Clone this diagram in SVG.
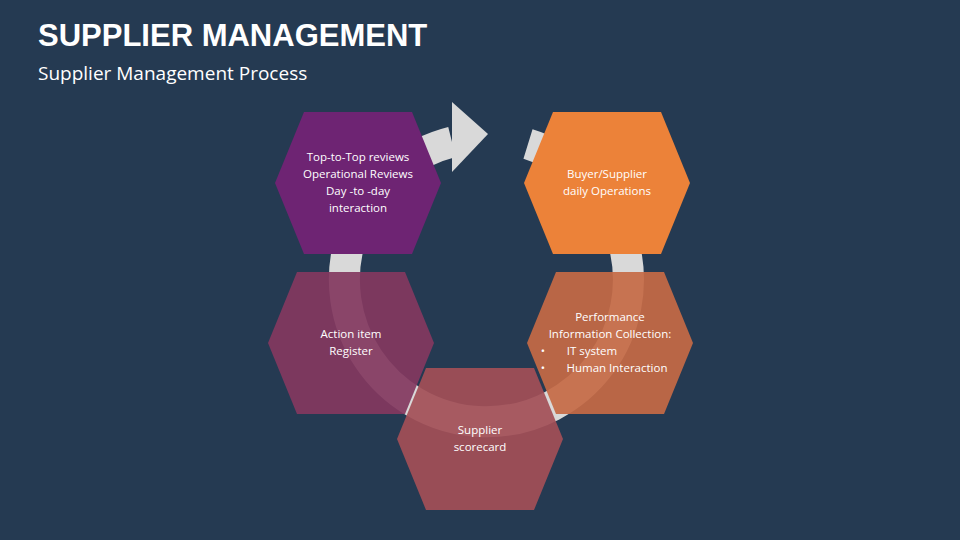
<svg xmlns="http://www.w3.org/2000/svg" width="960" height="540" viewBox="0 0 960 540">
<style>
.t{font-family:"Open Sans","Liberation Sans",sans-serif;fill:#fff;font-size:11.5px;text-anchor:middle}
.h{stroke:none}
</style>
<defs><polygon id="hx" points="-83,0 -54,-71 54,-71 83,0 54,71 -54,71"/></defs>
<rect width="960" height="540" fill="#253A52"/>
<text x="38" y="46" font-family="Liberation Sans,sans-serif" font-weight="bold" font-size="31" fill="#fff">SUPPLIER MANAGEMENT</text>
<text x="38" y="80" font-family="Open Sans,Liberation Sans,sans-serif" font-size="19" fill="#fff">Supplier Management Process</text>
<g id="connectors">
<path d="M528,144 A142,142 0 1 1 452,142" fill="none" stroke="#D9D9D9" stroke-width="31"/>
<polygon points="452,102 488,134 452,172" fill="#D9D9D9"/>
</g>
<g id="n1"><use href="#hx" x="358" y="183" fill="#6E2473"/><text class="t" x="358" y="161">Top-to-Top reviews</text><text class="t" x="358" y="178">Operational Reviews</text><text class="t" x="358" y="195">Day -to -day</text><text class="t" x="358" y="212">interaction</text></g>
<g id="n2"><use href="#hx" x="607" y="183" fill="#EC8239"/><text class="t" x="607" y="178">Buyer/Supplier</text><text class="t" x="607" y="195">daily Operations</text></g>
<g id="n3"><use href="#hx" x="610" y="343" fill="#C56A45" fill-opacity="0.92"/><text class="t" x="610" y="321">Performance</text><text class="t" x="610" y="338">Information Collection:</text><text class="t" x="543" y="355">•</text><text class="t" x="592" y="355">IT system</text><text class="t" x="543" y="372">•</text><text class="t" x="617" y="372">Human Interaction</text></g>
<g id="n4"><use href="#hx" x="480" y="439" fill="#A34F57" fill-opacity="0.92"/><text class="t" x="480" y="434">Supplier</text><text class="t" x="480" y="451">scorecard</text></g>
<g id="n5"><use href="#hx" x="351" y="343" fill="#83385F" fill-opacity="0.92"/><text class="t" x="351" y="338">Action item</text><text class="t" x="351" y="355">Register</text></g>
</svg>
